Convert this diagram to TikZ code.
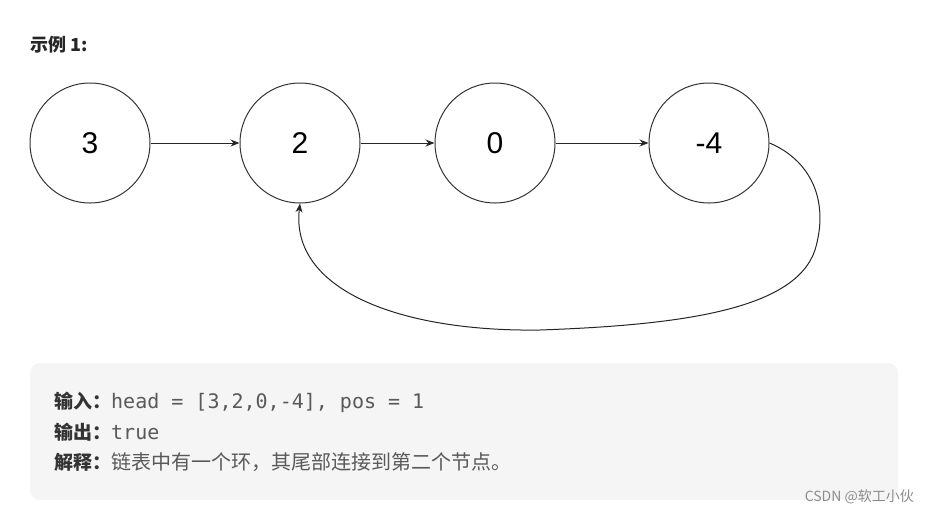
\documentclass[tikz,border=0pt]{standalone}
\usepackage{fontspec}
\setmainfont{Liberation Sans}
\setmonofont{DejaVu Sans Mono}
\newfontfamily\cjk{Noto Sans CJK SC}
\usetikzlibrary{arrows.meta}
\begin{document}
\begin{tikzpicture}[x=1pt,y=-1pt,
  ln/.style={circle,draw=black!80,line width=1pt,minimum size=120pt,inner sep=0pt,font=\fontsize{30}{30}\selectfont},
  arr/.style={-{Stealth[length=9pt,width=7pt]},line width=1pt,black!85},
  txt/.style={anchor=west,inner sep=0pt,text=black!80,font=\fontsize{19}{22}\selectfont}]
\useasboundingbox (0,0) rectangle (929,515);
\node[anchor=west,inner sep=0pt,text=black!85,font=\cjk\bfseries\fontsize{18}{20}\selectfont] (title) at (30,45) {示例 1:};
\node[ln] (a) at (90,143) {3};
\node[ln] (b) at (300,143) {2};
\node[ln] (c) at (495,143) {0};
\node[ln] (d) at (709,143) {-4};
\draw[arr] (a) -- (b);
\draw[arr] (b) -- (c);
\draw[arr] (c) -- (d);
\draw[arr] (d.east) .. controls (810,160) and (830,200) .. (815,250)
  .. controls (795,310) and (680,325) .. (540,330)
  .. controls (400,332) and (290,290) .. (b.south);
\fill[black!4, rounded corners=10pt] (30,363) rectangle (898,500);
\node[txt] (l1) at (54,402) {{\cjk\bfseries 输入：}{\fontsize{20}{22}\selectfont\color{black!65}\texttt{head = [3,2,0,-4], pos = 1}}};
\node[txt] (l2) at (54,432) {{\cjk\bfseries 输出：}{\fontsize{20}{22}\selectfont\color{black!65}\texttt{true}}};
\node[txt] (l3) at (54,462) {{\cjk\bfseries 解释：}{\cjk\fontsize{20}{22}\selectfont\color{black!65} 链表中有一个环，其尾部连接到第二个节点。}};
\node[anchor=east,inner sep=0pt,text=black!45,font=\cjk\fontsize{14}{16}\selectfont] (wm) at (914,497) {CSDN @软工小伙};
\end{tikzpicture}
\end{document}
